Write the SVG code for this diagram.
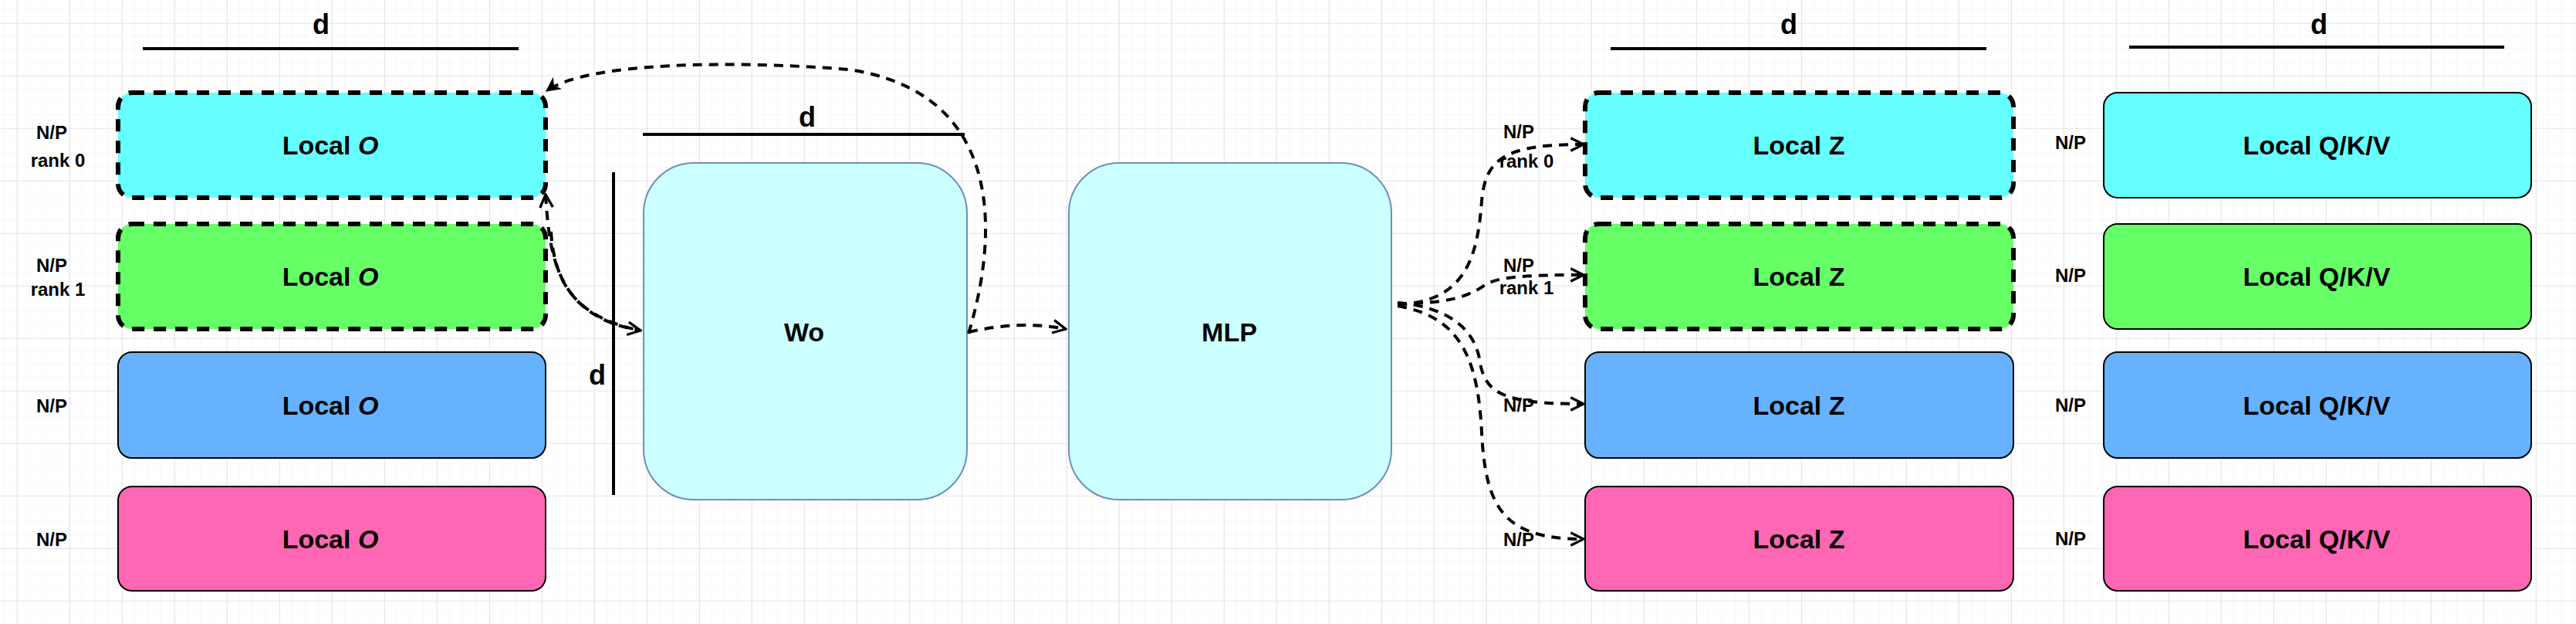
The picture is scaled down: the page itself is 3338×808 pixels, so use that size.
<svg xmlns="http://www.w3.org/2000/svg" width="3338" height="808" viewBox="0 0 3338 808">
<defs>
<pattern id="gm" width="17" height="17" patternUnits="userSpaceOnUse" x="22" y="30"><path d="M17 0V17H0" fill="none" stroke="#f0f0f0" stroke-width="1"/></pattern>
<pattern id="gM" width="68" height="68" patternUnits="userSpaceOnUse" x="22" y="30"><path d="M0 0V68M0 0H68" fill="none" stroke="#d8d8d8" stroke-width="1.2"/></pattern>
<marker id="ar" viewBox="0 0 12 12" refX="11" refY="6" markerWidth="20" markerHeight="20" markerUnits="userSpaceOnUse" orient="auto-start-reverse"><path d="M1 1L11 6L1 11" fill="none" stroke="#000" stroke-width="2"/></marker>
<marker id="arb" viewBox="0 0 16 16" refX="14" refY="8" markerWidth="22" markerHeight="22" markerUnits="userSpaceOnUse" orient="auto"><path d="M1 1L15 8L1 15L5 8Z" fill="#000"/></marker>
</defs>
<style>
text{font-family:"Liberation Sans",Arial,sans-serif;font-weight:bold;fill:#000;text-anchor:middle;dominant-baseline:central}
.t{font-size:34px}.s{font-size:24px}.d{font-size:36px}
.b{stroke:#000;stroke-width:2}
.dash{stroke:#000;stroke-width:6;stroke-dasharray:16 12}
.c{fill:#66FFFF}.g{fill:#66FF66}.bl{fill:#66B2FF}.p{fill:#FF66B3}
.big{fill:#CCFFFF;stroke:#6C8EBF;stroke-width:2}
.ln{stroke:#000;stroke-width:4}
.cn{fill:none;stroke:#000;stroke-width:4;stroke-dasharray:12 9}
</style>
<rect width="3338" height="808" fill="#fff"/>
<rect width="3338" height="808" fill="url(#gm)"/>
<rect width="3338" height="808" fill="url(#gM)"/>

<g id="dims">
<line class="ln" x1="185" y1="63" x2="672" y2="63"/><text class="d" x="416" y="31">d</text>
<line class="ln" x1="833" y1="174" x2="1250" y2="174"/><text class="d" x="1046" y="151">d</text>
<line class="ln" x1="795" y1="223" x2="795" y2="641"/><text class="d" x="774" y="485">d</text>
<line class="ln" x1="2087" y1="63" x2="2574" y2="63"/><text class="d" x="2318" y="31">d</text>
<line class="ln" x1="2759" y1="61" x2="3245" y2="61"/><text class="d" x="3005" y="31">d</text>
</g>

<g id="localO">
<g id="o0"><rect class="c" x="153" y="120" width="554" height="136" rx="18"/><rect class="dash" fill="none" x="153" y="120" width="554" height="136" rx="18"/><text class="t" x="428" y="188">Local <tspan font-style="italic">O</tspan></text></g>
<g id="o1"><rect class="g" x="153" y="290" width="554" height="136" rx="18"/><rect class="dash" fill="none" x="153" y="290" width="554" height="136" rx="18"/><text class="t" x="428" y="358">Local <tspan font-style="italic">O</tspan></text></g>
<g id="o2"><rect class="bl b" x="153" y="456" width="554" height="137" rx="18"/><text class="t" x="428" y="525">Local <tspan font-style="italic">O</tspan></text></g>
<g id="o3"><rect class="p b" x="153" y="630" width="554" height="135" rx="18"/><text class="t" x="428" y="698">Local <tspan font-style="italic">O</tspan></text></g>
<text class="s" x="67" y="171">N/P</text><text class="s" x="75" y="207">rank 0</text>
<text class="s" x="67" y="343">N/P</text><text class="s" x="75" y="374">rank 1</text>
<text class="s" x="67" y="525">N/P</text>
<text class="s" x="67" y="698">N/P</text>
</g>

<g id="wo"><rect class="big" x="834" y="211" width="419" height="436" rx="65"/><text class="t" x="1042" y="430">Wo</text></g>
<g id="mlp"><rect class="big" x="1385" y="211" width="418" height="436" rx="65"/><text class="t" x="1593" y="430">MLP</text></g>

<g id="localZ">
<g id="z0"><rect class="c" x="2054" y="120" width="555" height="136" rx="18"/><rect class="dash" fill="none" x="2054" y="120" width="555" height="136" rx="18"/><text class="t" x="2331" y="188">Local Z</text></g>
<g id="z1"><rect class="g" x="2054" y="290" width="555" height="136" rx="18"/><rect class="dash" fill="none" x="2054" y="290" width="555" height="136" rx="18"/><text class="t" x="2331" y="358">Local Z</text></g>
<g id="z2"><rect class="bl b" x="2054" y="456" width="555" height="137" rx="18"/><text class="t" x="2331" y="525">Local Z</text></g>
<g id="z3"><rect class="p b" x="2054" y="630" width="555" height="135" rx="18"/><text class="t" x="2331" y="698">Local Z</text></g>
</g>

<g id="qkv">
<g id="q0"><rect class="c b" x="2726" y="120" width="554" height="136" rx="18"/><text class="t" x="3002" y="188">Local Q/K/V</text></g>
<g id="q1"><rect class="g b" x="2726" y="290" width="554" height="136" rx="18"/><text class="t" x="3002" y="358">Local Q/K/V</text></g>
<g id="q2"><rect class="bl b" x="2726" y="456" width="554" height="137" rx="18"/><text class="t" x="3002" y="525">Local Q/K/V</text></g>
<g id="q3"><rect class="p b" x="2726" y="630" width="554" height="135" rx="18"/><text class="t" x="3002" y="698">Local Q/K/V</text></g>
<text class="s" x="2683" y="184">N/P</text>
<text class="s" x="2683" y="356">N/P</text>
<text class="s" x="2683" y="524">N/P</text>
<text class="s" x="2683" y="697">N/P</text>
</g>

<g id="connectors">
<path class="cn" d="M1255,432 C1295,300 1300,120 1100,90 C950,78 760,80 708,118" marker-end="url(#arb)"/>
<path class="cn" d="M707,252 C712,330 720,410 830,428" marker-start="url(#ar)" marker-end="url(#ar)"/>
<path class="cn" d="M714,300 C718,360 740,410 830,428"/>
<path class="cn" d="M1255,430 C1300,420 1340,418 1381,426" marker-end="url(#ar)"/>
<path class="cn" d="M1811,394 C1900,392 1915,330 1920,260 C1925,205 1950,187 2052,187" marker-end="url(#ar)"/>
<path class="cn" d="M1811,394 C1880,392 1900,384 1920,372 C1935,360 1960,356 2052,356" marker-end="url(#ar)"/>
<path class="cn" d="M1811,392 C1850,395 1910,410 1918,470 C1925,510 1950,523 2052,523" marker-end="url(#ar)"/>
<path class="cn" d="M1811,396 C1890,410 1915,460 1920,560 C1925,660 1950,698 2052,698" marker-end="url(#ar)"/>
<text class="s" x="1968" y="170">N/P</text><text class="s" x="1978" y="208">rank 0</text>
<text class="s" x="1968" y="343">N/P</text><text class="s" x="1978" y="372">rank 1</text>
<text class="s" x="1968" y="524">N/P</text>
<text class="s" x="1968" y="698">N/P</text>
</g>
</svg>
